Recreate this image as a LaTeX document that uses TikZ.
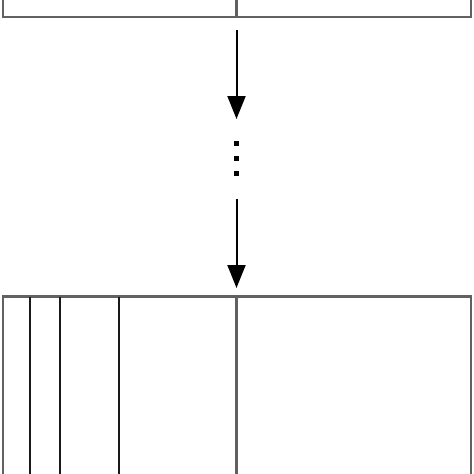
\documentclass[tikz,border=0pt]{standalone}
\usetikzlibrary{arrows.meta}
\begin{document}
\begin{tikzpicture}[x=1pt,y=-1pt,
  frame/.style={draw=black!62, line width=2.2pt},
  divider/.style={draw=black!90, line width=1.6pt},
  flow/.style={draw=black, line width=2pt, -{Triangle[width=18pt,length=23pt]}},
  dot/.style={fill=black, minimum size=5pt, inner sep=0pt, draw=none}]
\useasboundingbox (0,0) rectangle (474,474);
\begin{scope}
\clip (0,0) rectangle (474,474);
% top block
\draw[frame] (3,-40) rectangle (471,17);
\draw[frame] (236.5,-40) -- (236.5,17);
% bottom block
\draw[frame] (3,530) -- (3,296.5) -- (471,296.5) -- (471,530);
\draw[divider] (30,296.5) -- (30,474);
\draw[divider] (60,296.5) -- (60,474);
\draw[divider] (119,296.5) -- (119,474);
\draw[frame] (236.5,296.5) -- (236.5,474);
\end{scope}
\coordinate (a1s) at (236.5,30);
\coordinate (a1e) at (236.5,119);
\coordinate (a2s) at (236.5,199);
\coordinate (a2e) at (236.5,288);
\draw[flow] (a1s) -- (a1e);
\draw[flow] (a2s) -- (a2e);
\node[dot] (d1) at (236.5,143) {};
\node[dot] (d2) at (236.5,158) {};
\node[dot] (d3) at (236.5,173) {};
\end{tikzpicture}
\end{document}
